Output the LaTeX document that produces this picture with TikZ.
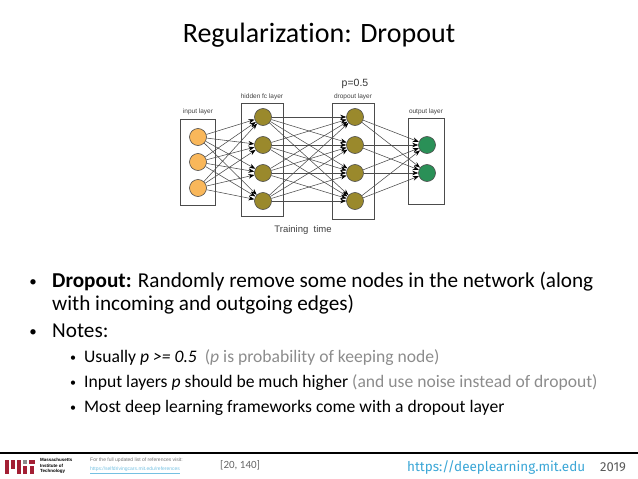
\documentclass[tikz,border=0pt]{standalone}
\usepackage{fontspec}
\setmainfont{Carlito}[Ligatures=NoCommon]
\newfontfamily\labelfont{Liberation Sans}
\newfontfamily\urlfont{Fira Sans}
\usetikzlibrary{arrows.meta}
\definecolor{inorange}{HTML}{F9B75A}
\definecolor{hidolive}{HTML}{9A892C}
\definecolor{outgreen}{HTML}{2A9057}
\definecolor{notegray}{HTML}{8C8C8C}
\definecolor{linkblue}{HTML}{3AA6D6}
\definecolor{mitred}{HTML}{A31F34}

\begin{document}
\begin{tikzpicture}[x=1pt,y=-1pt,
  neuron/.style={circle,draw=black!70,line width=0.6pt,minimum size=17pt,inner sep=0pt},
  layerbox/.style={draw=black!70,line width=0.6pt},
  edge/.style={draw=black!70,line width=0.55pt,-{Stealth[length=6pt,width=4.5pt,color=black]}},
  tag/.style={font=\labelfont\fontsize{6.5}{8}\selectfont,text=black!75},
  line/.style={anchor=base west,inner sep=0pt},
  dot/.style={anchor=base,inner sep=0pt}]
  \useasboundingbox (0,0) rectangle (638,479);
  \node[anchor=base,inner sep=0pt] (title) at (319,42) {\fontsize{28}{32}\selectfont Regularization: Dropout};

  % layer boxes
  \draw[layerbox] (180,119) rectangle (215,205);
  \draw[layerbox] (241,103) rectangle (283,216);
  \draw[layerbox] (332,103) rectangle (374,219);
  \draw[layerbox] (408,118) rectangle (444,204);

  % neurons
  \foreach \i/\y in {1/137,2/162,3/188}
    \node[neuron,fill=inorange] (in\i) at (198,\y) {};
  \foreach \i/\y in {1/117,2/145,3/173,4/201}
    \node[neuron,fill=hidolive] (hid\i) at (263,\y) {};
  \foreach \i/\y in {1/117,2/145,3/173,4/201}
    \node[neuron,fill=hidolive] (drop\i) at (355,\y) {};
  \foreach \i/\y in {1/145,2/173}
    \node[neuron,fill=outgreen] (out\i) at (427,\y) {};

  % connections
  \foreach \a in {1,2,3}
    \foreach \b in {1,...,4}
      \draw[edge] (in\a) -- (hid\b);
  \foreach \a in {1,...,4}
    \foreach \b in {1,...,4}
      \draw[edge] (hid\a) -- (drop\b);
  \foreach \a in {1,...,4}
    \foreach \b in {1,2}
      \draw[edge] (drop\a) -- (out\b);

  \node[tag] (inlab) at (198,112) {input layer};
  \node[tag] (hidlab) at (262,97) {hidden fc layer};
  \node[tag] (droplab) at (353,97) {dropout layer};
  \node[tag] (outlab) at (426,112) {output layer};
  \node[font=\labelfont\fontsize{10.5}{12}\selectfont,text=black!80] (plab) at (355,84) {p=0.5};
  \node[font=\labelfont\fontsize{9.5}{12}\selectfont,text=black!75] (caption) at (303,230) {Training\ \ time};

  % bullets
  \node[dot,font=\fontsize{15}{24}\selectfont] (b1) at (33,286) {•};
  \node[line,font=\fontsize{21.2}{24}\selectfont] (t1) at (52,287) {\textbf{Dropout:} Randomly remove some nodes in the network (along};
  \node[line,font=\fontsize{21.2}{24}\selectfont] (t1b) at (52,310) {with incoming and outgoing edges)};
  \node[dot,font=\fontsize{15}{24}\selectfont] (b2) at (33,336) {•};
  \node[line,font=\fontsize{21.2}{24}\selectfont] (t2) at (52,337) {Notes:};
  \node[dot,font=\fontsize{12}{19}\selectfont] (b3) at (73,361) {•};
  \node[line,font=\fontsize{17.6}{19}\selectfont] (t3) at (84,362) {Usually \textit{p >= 0.5} \ \textcolor{notegray}{(\textit{p} is probability of keeping node)}};
  \node[dot,font=\fontsize{12}{19}\selectfont] (b4) at (73,386) {•};
  \node[line,font=\fontsize{17.6}{19}\selectfont] (t4) at (84,387) {Input layers \textit{p} should be much higher \textcolor{notegray}{(and use noise instead of dropout)}};
  \node[dot,font=\fontsize{12}{19}\selectfont] (b5) at (73,411) {•};
  \node[line,font=\fontsize{17.6}{19}\selectfont] (t5) at (84,412) {Most deep learning frameworks come with a dropout layer};

  % footer
  \draw[line width=1.4pt] (0,453) -- (638,453);
  \fill[mitred] (5,460) rectangle (9,474);
  \fill[mitred] (11,460) rectangle (15,469);
  \fill[mitred] (17,460) rectangle (21,474);
  \fill[black!45] (23,460) rectangle (27,464);
  \fill[mitred] (23,466) rectangle (27,474);
  \fill[mitred] (29,460) rectangle (35,464);
  \fill[mitred] (30,466) rectangle (34,474);
  \node[anchor=west,inner sep=0pt,align=left,font=\labelfont\bfseries\fontsize{4.5}{5.5}\selectfont] (mit) at (40,466) {Massachusetts\\Institute of\\Technology};
  \node[anchor=west,inner sep=0pt,align=left,font=\labelfont\fontsize{5}{9}\selectfont,text=black!55] (refs) at (90,466) {For the full updated list of references visit:\\\textcolor{linkblue!70}{\underline{https://selfdrivingcars.mit.edu/references}}};
  \node[anchor=west,inner sep=0pt,font=\fontsize{11}{13}\selectfont,text=black!60] (cite) at (220,465) {[20, 140]};
  \node[anchor=west,inner sep=0pt,font=\urlfont\fontsize{13.5}{15}\selectfont,text=linkblue] (url) at (407,467) {https://deeplearning.mit.edu};
  \node[anchor=west,inner sep=0pt,font=\urlfont\fontsize{13}{15}\selectfont,text=black!65] (year) at (600,467) {2019};
\end{tikzpicture}
\end{document}
